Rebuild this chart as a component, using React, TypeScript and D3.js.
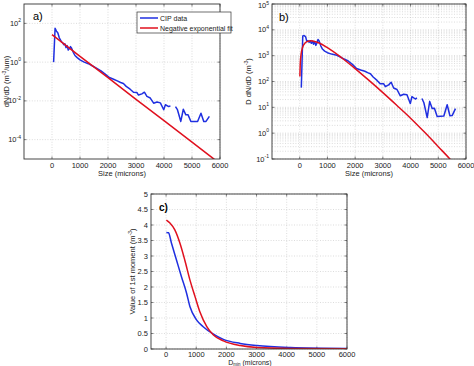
import * as d3 from "d3";
import { useEffect, useRef } from "react";

// CIP size bins (microns); null marks the gap in the record
const cipSize = [58, 110, 160, 210, 260, 300, 340, 380, 420, 460, 500, 540, 580, 620, 660, 700, 760, 820, 900, 1000, 1150, 1300, 1450, 1600, 1750, 1900, 2050, 2200, 2350, 2450, 2550, 2650, 2790, 2910, 3030, 3090, 3210, 3300, 3390, 3510, 3630, 3750, 3870, 3990, 4050, 4170, 4230, 4320, 4410, 4480, 4600, 4690, 4780, 4860, 4960, 5080, 5200, 5320, 5420, 5500, 5620];
// dN/dD (m^-3/um)
const cipDnDd = [1.0, 56, 40, 32, 18, 14, 11, 10, 7.9, 8.9, 5.6, 7.1, 4.2, 5.0, 6.3, 5.2, 3.2, 2.2, 1.7, 1.3, 1.0, 0.83, 0.63, 0.47, 0.35, 0.24, 0.16, 0.13, 0.105, 0.089, 0.079, 0.056, 0.04, 0.028, 0.027, 0.02, 0.023, 0.028, 0.017, 0.014, 0.0076, 0.0087, 0.0079, 0.0035, 0.0063, 0.0051, 0.0055, null, 0.0051, 0.0035, 0.00087, 0.0037, 0.0019, 0.0019, 0.00087, 0.00087, 0.00087, 0.0023, 0.00087, 0.00087, 0.0016];
// D dN/dD (m^-3)
const cipDDnDd = [58, 5800, 6000, 5500, 3500, 3800, 3300, 3800, 3000, 3600, 2800, 3500, 2500, 3100, 4200, 3700, 2400, 1800, 1500, 1300, 1150, 1070, 910, 740, 620, 460, 320, 280, 250, 220, 200, 150, 110, 81, 81, 63, 74, 93, 56, 49, 28, 32, 31, 14, 26, 21, 23, null, 22, 15, 4.0, 17, 9.1, 9.3, 4.4, 4.5, 4.6, 12.6, 4.7, 4.8, 8.9];

// negative exponential fit
const fitSizeA = [0, 1000, 2000, 3000, 4000, 5000, 5800];
const fitDnDd = [26, 2.0, 0.16, 0.012, 0.00095, 0.000074, 0.0000095];
const fitSizeB = [6, 20, 50, 100, 200, 300, 400, 500, 700, 1000, 1500, 2000, 2500, 3000, 3500, 4000, 4500, 5000, 5500, 5600];
const fitDDnDd = [155, 500, 1150, 2040, 3160, 3630, 3800, 3630, 3090, 2040, 850, 316, 110, 37, 12, 3.8, 1.1, 0.3, 0.08, 0.06];

// 1st moment vs D_min
const dminCip = [10, 80, 180, 345, 510, 680, 790, 1010, 1230, 1570, 1900, 2460, 3010, 4120, 6000];
const momentCip = [3.76, 3.75, 3.41, 2.87, 2.33, 1.8, 1.37, 0.94, 0.72, 0.48, 0.31, 0.18, 0.11, 0.05, 0.02];
const dminFit = [10, 120, 290, 460, 620, 790, 960, 1120, 1350, 1570, 1900, 2460, 3010, 4120, 6000];
const momentFit = [4.16, 4.07, 3.84, 3.41, 2.87, 2.23, 1.69, 1.2, 0.72, 0.45, 0.26, 0.11, 0.05, 0.02, 0.01];

const sizeTicks = [0, 1000, 2000, 3000, 4000, 5000, 6000];
const expTicksA = [-4, -2, 0, 2];
const expTicksB = [-1, 0, 1, 2, 3, 4, 5];
const momentTicks = [0, 0.5, 1, 1.5, 2, 2.5, 3, 3.5, 4, 4.5, 5];

const BLUE = "#1f2fe0";
const RED = "#e0101e";
const FONT = "Liberation Sans, Arial, sans-serif";

export default function App() {
  const ref = useRef<SVGSVGElement | null>(null);

  useEffect(() => {
    if (!ref.current) return;
    const svg = d3.select(ref.current);
    svg.selectAll("*").remove();
    svg.append("rect").attr("width", 474).attr("height", 366).attr("fill", "#fff");

    const grid = (g: any) =>
      g.attr("stroke", "#c4c4c4").attr("stroke-width", 0.6).attr("stroke-dasharray", "1,1.6");

    function panel(opts: any) {
      const { x, y, id, xTicks, yTicks, yMinor, yLabel, log, tickDy } = opts;
      const [x0, x1] = x.range();
      const [y0, y1] = y.range();
      const g = svg.append("g");

      g.append("clipPath").attr("id", id).append("rect")
        .attr("x", x0).attr("y", y1).attr("width", x1 - x0).attr("height", y0 - y1);

      // grid
      (yMinor || []).forEach((v: number) =>
        g.append("line").call(grid).attr("x1", x0).attr("x2", x1).attr("y1", y(v)).attr("y2", y(v)));
      xTicks.forEach((v: number) =>
        g.append("line").call(grid).attr("x1", x(v)).attr("x2", x(v)).attr("y1", y1).attr("y2", y0));
      yTicks.forEach((v: number) =>
        g.append("line").call(grid).attr("x1", x0).attr("x2", x1).attr("y1", y(v)).attr("y2", y(v)));

      // tick marks (inward, both sides)
      const tk = g.append("g").attr("stroke", "#333").attr("stroke-width", 0.6);
      xTicks.forEach((v: number) => {
        tk.append("line").attr("x1", x(v)).attr("x2", x(v)).attr("y1", y0).attr("y2", y0 - 2.5);
        tk.append("line").attr("x1", x(v)).attr("x2", x(v)).attr("y1", y1).attr("y2", y1 + 2.5);
      });
      yTicks.forEach((v: number) => {
        tk.append("line").attr("x1", x0).attr("x2", x0 + 2.5).attr("y1", y(v)).attr("y2", y(v));
        tk.append("line").attr("x1", x1).attr("x2", x1 - 2.5).attr("y1", y(v)).attr("y2", y(v));
      });

      // tick labels
      xTicks.forEach((v: number) =>
        g.append("text").attr("x", x(v)).attr("y", y0 + tickDy).attr("text-anchor", "middle")
          .attr("font-size", 7.5).attr("font-family", FONT).attr("fill", "#222").text(v));
      yTicks.forEach((v: number) => {
        const t = g.append("text").attr("x", x0 - 3).attr("y", Math.max(y(v) + 2.5, 8)).attr("text-anchor", "end")
          .attr("font-size", 7.5).attr("font-family", FONT).attr("fill", "#222");
        if (log) {
          t.append("tspan").text("10");
          t.append("tspan").attr("dy", -3.5).attr("font-size", 5).text(String(Math.round(Math.log10(v))));
        } else {
          t.text(v);
        }
      });

      // y label
      g.append("text")
        .attr("transform", `translate(${yLabel.x},${(y0 + y1) / 2}) rotate(-90)`)
        .attr("text-anchor", "middle").attr("font-size", 7.5).attr("font-family", FONT).attr("fill", "#222")
        .call((t: any) => {
          t.append("tspan").text(yLabel.text);
          t.append("tspan").attr("dy", -3).attr("font-size", 5).text("-3");
          t.append("tspan").attr("dy", 3).text(yLabel.tail);
        });

      const plot = g.append("g").attr("clip-path", `url(#${id})`);
      g.append("rect").attr("x", x0).attr("y", y1).attr("width", x1 - x0).attr("height", y0 - y1)
        .attr("fill", "none").attr("stroke", "#333").attr("stroke-width", 0.9);
      return { g, plot };
    }

    const drawLine = (plot: any, x: any, y: any, xs: number[], ys: (number | null)[], color: string, curve: any) => {
      const line = d3.line<number>()
        .defined((i) => ys[i] != null)
        .x((i) => x(xs[i]))
        .y((i) => y(ys[i] as number))
        .curve(curve);
      plot.append("path").attr("d", line(d3.range(xs.length)))
        .attr("fill", "none").attr("stroke", color).attr("stroke-width", 1.5).attr("stroke-linejoin", "round");
    };

    // ---- a)
    const xa = d3.scaleLinear().domain([-1000, 6000]).range([24, 220]);
    const ya = d3.scaleLog().domain([1e-5, 1e3]).range([159, 4]);
    const pa = panel({
      x: xa, y: ya, id: "clipA", xTicks: sizeTicks, yTicks: expTicksA.map((e) => Math.pow(10, e)), log: true, tickDy: 9,
      yLabel: { x: 9, text: "dN/dD (m", tail: "/um)" },
    });
    drawLine(pa.plot, xa, ya, cipSize, cipDnDd, BLUE, d3.curveLinear);
    drawLine(pa.plot, xa, ya, fitSizeA, fitDnDd, RED, d3.curveLinear);
    pa.g.append("text").attr("x", 33).attr("y", 20).attr("font-size", 11).attr("font-family", FONT).text("a)");
    pa.g.append("text").attr("x", 122).attr("y", 175.5).attr("text-anchor", "middle").attr("font-size", 7.5)
      .attr("font-family", FONT).attr("fill", "#222").text("Size (microns)");

    // legend
    const lg = pa.g.append("g");
    lg.append("rect").attr("x", 137).attr("y", 12).attr("width", 94).attr("height", 21)
      .attr("fill", "#fff").attr("stroke", "#333").attr("stroke-width", 0.7);
    [["CIP data", BLUE], ["Negative exponential fit", RED]].forEach(([label, c], i) => {
      const yy = 18 + i * 10;
      lg.append("line").attr("x1", 140).attr("x2", 158).attr("y1", yy).attr("y2", yy)
        .attr("stroke", c).attr("stroke-width", 1.5);
      lg.append("text").attr("x", 160).attr("y", yy + 2.5).attr("font-size", 7).attr("font-family", FONT)
        .attr("fill", "#222").text(label);
    });

    // ---- b)
    const xb = d3.scaleLinear().domain([-1000, 6000]).range([272, 466]);
    const yb = d3.scaleLog().domain([1e-1, 1e5]).range([159, 4]);
    const minor: number[] = [];
    expTicksB.slice(0, -1).forEach((e) => {
      for (let k = 2; k <= 9; k++) minor.push(k * Math.pow(10, e));
    });
    const pb = panel({
      x: xb, y: yb, id: "clipB", xTicks: sizeTicks, yTicks: expTicksB.map((e) => Math.pow(10, e)), yMinor: minor, log: true, tickDy: 9,
      yLabel: { x: 251, text: "D dN/dD (m", tail: ")" },
    });
    drawLine(pb.plot, xb, yb, cipSize, cipDDnDd, BLUE, d3.curveLinear);
    drawLine(pb.plot, xb, yb, fitSizeB, fitDDnDd, RED, d3.curveMonotoneX);
    pb.g.append("text").attr("x", 279).attr("y", 21).attr("font-size", 11).attr("font-family", FONT).text("b)");
    pb.g.append("text").attr("x", 369).attr("y", 175.5).attr("text-anchor", "middle").attr("font-size", 7.5)
      .attr("font-family", FONT).attr("fill", "#222").text("Size (microns)");

    // ---- c)
    const xc = d3.scaleLinear().domain([-500, 6000]).range([151, 347]);
    const yc = d3.scaleLinear().domain([0, 5]).range([349, 194]);
    const pc = panel({
      x: xc, y: yc, id: "clipC", xTicks: sizeTicks, yTicks: momentTicks, log: false, tickDy: 8,
      yLabel: { x: 135, text: "Value of 1st moment (m", tail: ")" },
    });
    drawLine(pc.plot, xc, yc, dminCip, momentCip, BLUE, d3.curveMonotoneX);
    drawLine(pc.plot, xc, yc, dminFit, momentFit, RED, d3.curveMonotoneX);
    pc.g.append("text").attr("x", 159).attr("y", 211).attr("font-size", 10).attr("font-weight", "bold")
      .attr("font-family", FONT).text("c)");
    const xt = pc.g.append("text").attr("x", 250).attr("y", 364.5).attr("text-anchor", "middle")
      .attr("font-size", 7).attr("font-family", FONT).attr("fill", "#222");
    xt.append("tspan").text("D");
    xt.append("tspan").attr("dy", 1.5).attr("font-size", 4.5).text("min");
    xt.append("tspan").attr("dy", -1.5).text(" (microns)");
  }, []);

  return (
    <svg
      ref={ref}
      width={474}
      height={366}
      style={{ position: "absolute", left: 0, top: 0, display: "block" }}
    />
  );
}
